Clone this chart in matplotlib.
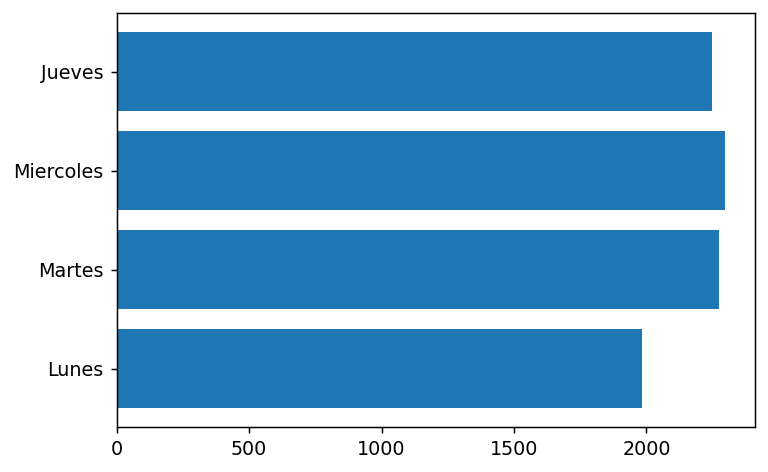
import matplotlib
matplotlib.use("Agg")
import matplotlib.pyplot as plt

dias = ["Lunes", "Martes", "Miercoles", "Jueves"]
valores = [1982, 2274, 2295, 2248]

DPI = 133
plt.rcParams["font.size"] = 10.35
fig = plt.figure(figsize=(768 / DPI, 472 / DPI), dpi=DPI)
ax = fig.add_axes([116.7 / 768, 1 - 427 / 472, (755 - 116.7) / 768, (427 - 13.3) / 472])
ax.barh(dias, valores, color="#1f77b4")
fig.savefig("out.png", dpi=DPI)
